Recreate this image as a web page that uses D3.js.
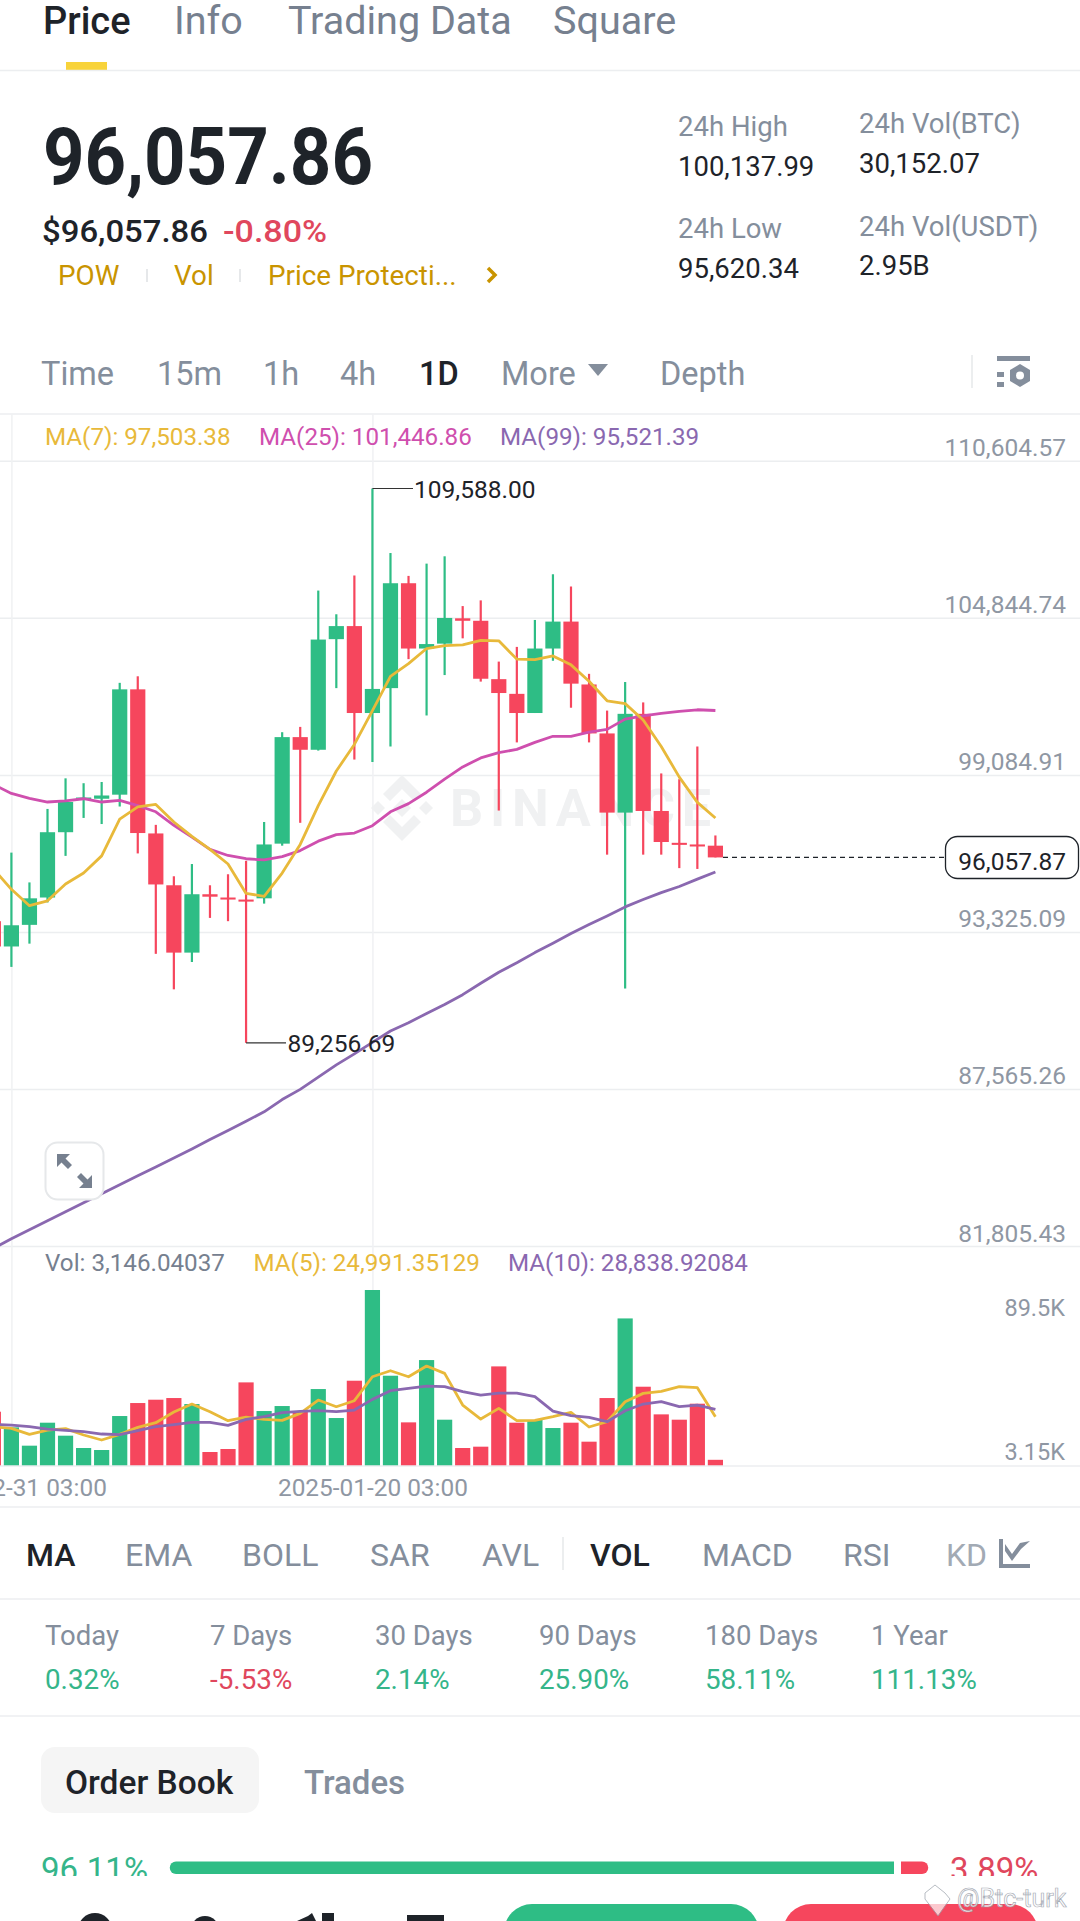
<!DOCTYPE html>
<html>
<head>
<meta charset="utf-8">
<script src="https://cdn.jsdelivr.net/npm/d3@7"></script>
<style>
  html, body { margin: 0; padding: 0; background: #fff; }
  svg { display: block; }
  text { font-family: Roboto, "Noto Sans", sans-serif; }
</style>
</head>
<body>
<div id="chart"></div>
<script>
// ======= candle data, one per day, first one is 2024-12-30
var firstDay = new Date(Date.UTC(2024, 11, 30));
var opens = [93719,92791,93584,94587,96982,98180,98210,98359,102222,96937,95036,92566,94707,94587,94512,94557,96563,100470,100006,104063,104542,101354,102267,106114,103719,103898,104827,104737,102596,102057,101354,103719,104707,102401,100605,97701,101324,97761,96593,96533,96488];
var closes = [92791,93569,94557,96982,98090,98255,98329,102222,96952,95066,92566,94707,94617,94512,94437,96533,100470,100006,104048,104542,101354,102237,106114,103719,103883,104841,104737,102611,102087,101354,103719,104707,102431,100605,97701,101324,97761,96623,96518,96458,96057.87];
var highs = [94138,96234,95141,97836,98958,98779,98824,102461,102701,97252,95366,95815,95036,95440,95934,97357,100650,100845,105845,104976,106398,109588,107222,106383,106833,107102,105276,105485,103240,103779,104767,106443,105994,102791,101443,102491,101743,99138,98928,100126,96863];
var lows = [92491,92042,92895,94407,96114,97506,97282,97925,96204,92521,91219,92222,93839,93719,89256.69,94363,96488,97327,99976,102267,99647,99557,100126,103330,101264,102746,104093,102506,97776,100276,101354,103270,101548,100276,96159,91249,96159,96159,95665,95635,96057.87];
var ma7 = [95635,94887,94288,94467,95081,95485,96114,97461,97910,98000,97357,96833,96354,95815,94737,94632,95485,96533,97955,99228,100201,101443,102701,103165,103719,103824,103854,104018,104003,103330,103315,103449,103120,102521,101803,101698,101099,100126,99003,98075,97503.38];
var ma25 = [98734,98405,98225,98090,98135,98210,98090,98150,97955,97731,97237,96803,96354,96129,96009,95964,96084,96309,96653,96893,96952,97222,97731,98030,98449,98928,99378,99707,99901,100021,100276,100500,100500,100650,100755,101129,101249,101339,101414,101473,101446.86];
var ma99 = [81713,82072,82402,82731,83060,83389,83719,84048,84378,84707,85036,85365,85710,86039,86383,86727,87177,87551,88000,88449,88854,89273,89692,89991,90336,90665,91024,91443,91848,92192,92566,92910,93269,93599,93913,94243,94512,94767,94991,95261,95521.39];
var volumes = [27612,19650,10333,22022,15415,9148,8131,25410,32017,33711,34558,31508,7115,8639,42519,27951,30492,27612,39131,24394,43366,89500,45907,22191,53869,23547,9148,9825,50651,22022,23377,19312,22022,12366,34558,75044,40317,26257,23547,31678,3146.04];
var volMa5 = [19989,19142,16093,18295,18973,15754,13213,16093,19650,22022,27443,31508,27612,23038,24902,23716,23208,26765,33541,30153,33202,45399,48448,45399,50820,47093,31000,23885,29306,23038,23208,25071,27273,19820,22530,32694,36929,37946,40317,39809,24991.35];
var volMa10 = [21175,20836,19989,18803,18126,17448,16262,15924,17956,19989,21006,22191,22191,20667,23716,25071,27104,27782,28120,27612,28459,33880,38284,39470,40656,40317,37776,36082,37099,37099,35235,27951,25579,24732,22530,28120,31508,32694,30153,31000,28838.92];

var priceTicks = [110604.57,104844.74,99084.91,93325.09,87565.26,81805.43];
var volTicks = [89500,3150];
var volTickLabels = ["89.5K","3.15K"];
var lastPrice = 96057.87;
var highPrice = 109588.00;
var lowPrice = 89256.69;

// ======= page text
var tabNames = ["Price","Info","Trading Data","Square"];
var rangeNames = ["Time","15m","1h","4h","1D","More","Depth"];
var indicatorNames = ["MA","EMA","BOLL","SAR","AVL","VOL","MACD","RSI","KD"];
var periodNames = ["Today","7 Days","30 Days","90 Days","180 Days","1 Year"];
var periodValues = ["0.32%","-5.53%","2.14%","25.90%","58.11%","111.13%"];

var GREEN = "#2ebd85", RED = "#f6465d", GOLD = "#e8b93a", PINK = "#cf4fae", PURPLE = "#8a68b0";
var GREY = "#848e9c", DARK = "#1e2329", GRID = "#eceef0", AXIS = "#8f97a3";

var days = opens.map(function(d, j) { return d3.utcDay.offset(firstDay, j); });

var svg = d3.select("#chart").append("svg")
  .attr("width", 1080)
  .attr("height", 1921)
  .style("background", "#fff");

var x = d3.scaleUtc().domain([days[1], days[40]]).range([11.4, 715.4]);
var y = d3.scaleLinear().domain([81805.43, 110604.57]).range([1246, 460.8]);
var yVol = d3.scaleLinear().domain([0, 89500]).range([1466, 1290]);

function label(str, px, py, size, fill, weight, anchor) {
  return svg.append("text")
    .text(str)
    .attr("x", px)
    .attr("y", py)
    .attr("font-size", size)
    .attr("fill", fill)
    .attr("font-weight", weight || 400)
    .attr("text-anchor", anchor || "start");
}

function hline(py, x1, x2, color) {
  svg.append("line").attr("x1", x1).attr("x2", x2).attr("y1", py).attr("y2", py)
    .attr("stroke", color || GRID).attr("stroke-width", 1.5);
}

// ======= top tabs
var tabX = [43, 174, 288, 553];
tabNames.forEach(function(t, j) {
  label(t, tabX[j], 34, j == 0 ? 38 : 39.5, j == 0 ? DARK : "#76808f", j == 0 ? 500 : 400);
});
svg.append("rect").attr("x", 66).attr("y", 62).attr("width", 41).attr("height", 8).attr("fill", "#f8d33a");
hline(70.5, 0, 1080);

// ======= price header
label("96,057.86", 43, 183.5, 80, DARK, 700).attr("textLength", 330).attr("lengthAdjust", "spacingAndGlyphs");
label("$96,057.86", 42, 242, 31, DARK, 500).attr("textLength", 166).attr("lengthAdjust", "spacingAndGlyphs");
label("-0.80%", 223, 242, 32, "#e0475d", 500).attr("textLength", 104).attr("lengthAdjust", "spacingAndGlyphs");
label("POW", 58, 285, 27.8, "#c99400");
label("Vol", 174, 285, 27.8, "#c99400");
label("Price Protecti...", 268, 285, 27.8, "#c99400");
[147, 240].forEach(function(sx) {
  svg.append("line").attr("x1", sx).attr("x2", sx).attr("y1", 269).attr("y2", 282).attr("stroke", "#e6e8ea").attr("stroke-width", 2);
});
svg.append("path").attr("d", "M488,268 L495,275 L488,282").attr("fill", "none").attr("stroke", "#c99400").attr("stroke-width", 3.5);

label("24h High", 678, 136, 27.5, GREY);
label("100,137.99", 678, 176, 27.5, DARK);
label("24h Low", 678, 238, 27.5, GREY);
label("95,620.34", 678, 278, 27.5, DARK);
label("24h Vol(BTC)", 859, 133, 27.5, GREY);
label("30,152.07", 859, 173, 27.5, DARK);
label("24h Vol(USDT)", 859, 236, 27.5, GREY);
label("2.95B", 859, 275, 27.5, DARK);

// ======= time range row
var rangeX = [41, 157, 263, 340, 419, 501, 660];
rangeNames.forEach(function(t, j) {
  label(t, rangeX[j], 385, 32.5, t == "1D" ? DARK : GREY, t == "1D" ? 500 : 400);
});
svg.append("path").attr("d", "M588,364 L608,364 L598,376 Z").attr("fill", GREY);
svg.append("line").attr("x1", 972).attr("x2", 972).attr("y1", 355).attr("y2", 388).attr("stroke", "#e6e8ea").attr("stroke-width", 1.5);
svg.append("rect").attr("x", 997).attr("y", 356).attr("width", 33).attr("height", 5).attr("fill", GREY);
svg.append("rect").attr("x", 997).attr("y", 372).attr("width", 7).attr("height", 5).attr("fill", GREY);
svg.append("rect").attr("x", 997).attr("y", 382).attr("width", 7).attr("height", 5).attr("fill", GREY);
svg.append("path").attr("d", "M1020,364 L1030,370 L1030,381 L1020,387 L1010,381 L1010,370 Z").attr("fill", GREY);
svg.append("circle").attr("cx", 1020).attr("cy", 375.5).attr("r", 4).attr("fill", "#fff");
hline(414, 0, 1080);

// ======= grid, from the price and time scales
svg.append("g")
  .call(d3.axisRight(y).tickValues(priceTicks).tickSize(1080).tickFormat(""))
  .call(function(g) { g.select(".domain").remove(); })
  .selectAll("line").attr("stroke", GRID).attr("stroke-width", 1.5);

svg.append("g")
  .attr("transform", "translate(0,414)")
  .call(d3.axisBottom(x).tickValues([days[1], days[21]]).tickSize(1052).tickFormat(""))
  .call(function(g) { g.select(".domain").remove(); })
  .selectAll("line").attr("stroke", "#f0f1f3").attr("stroke-width", 1.5);

// ======= watermark
var logo = svg.append("g").attr("transform", "translate(402,808)").attr("fill", "#f0f1f2");
logo.append("path").attr("d", "M0,-33 L19,-14 L12,-7 L0,-19 L-12,-7 L-19,-14 Z");
logo.append("path").attr("d", "M0,33 L19,14 L12,7 L0,19 L-12,7 L-19,14 Z");
logo.append("path").attr("d", "M0,-9 L9,0 L0,9 L-9,0 Z");
logo.append("path").attr("d", "M-24,-7 L-17,0 L-24,7 L-31,0 Z");
logo.append("path").attr("d", "M24,-7 L31,0 L24,7 L17,0 Z");
label("BINANCE", 450, 826, 52, "#f0f1f2", 700).attr("textLength", 261);

// ======= candles
var candle = svg.append("g").selectAll("g")
  .data(days)
  .enter()
  .append("g")
  .attr("fill", function(d, j) { return closes[j] >= opens[j] ? GREEN : RED; });

candle.append("rect")
  .attr("x", function(d) { return x(d) - 1.1; })
  .attr("width", 2.2)
  .attr("y", function(d, j) { return y(highs[j]); })
  .attr("height", function(d, j) { return y(lows[j]) - y(highs[j]); });

candle.append("rect")
  .attr("x", function(d) { return x(d) - 7.6; })
  .attr("width", 15.2)
  .attr("y", function(d, j) { return y(Math.max(opens[j], closes[j])); })
  .attr("height", function(d, j) { return Math.max(2, Math.abs(y(opens[j]) - y(closes[j]))); });

// ======= moving average lines
function drawLine(values, yScale, color) {
  var line = d3.line()
    .x(function(d, j) { return x(days[j]); })
    .y(function(d) { return yScale(d); });
  svg.append("path")
    .datum(values)
    .attr("d", line)
    .attr("fill", "none")
    .attr("stroke", color)
    .attr("stroke-width", 2.8)
    .attr("stroke-linejoin", "round");
}
drawLine(ma99, y, PURPLE);
drawLine(ma25, y, PINK);
drawLine(ma7, y, GOLD);

// ======= high / low callouts
svg.append("line").attr("x1", x(days[21])).attr("x2", 413).attr("y1", y(highPrice)).attr("y2", y(highPrice)).attr("stroke", "#333").attr("stroke-width", 1.2);
label("109,588.00", 414, y(highPrice) + 9.5, 24.5, DARK);
svg.append("line").attr("x1", x(days[14])).attr("x2", 286).attr("y1", y(lowPrice)).attr("y2", y(lowPrice)).attr("stroke", "#333").attr("stroke-width", 1.2);
label("89,256.69", 287.5, y(lowPrice) + 9.5, 24.5, DARK);

// ======= price axis labels
var priceAxis = svg.append("g")
  .attr("transform", "translate(1066,0)")
  .call(d3.axisLeft(y).tickValues(priceTicks).tickSize(0).tickPadding(0).tickFormat(d3.format(",.2f")));
priceAxis.select(".domain").remove();
priceAxis.selectAll("text")
  .attr("dy", "-5px")
  .attr("font-size", 24.5)
  .attr("font-family", "Roboto")
  .attr("fill", AXIS);

// ======= last price marker
svg.append("line").attr("x1", 723).attr("x2", 945).attr("y1", y(lastPrice)).attr("y2", y(lastPrice))
  .attr("stroke", DARK).attr("stroke-width", 1.3).attr("stroke-dasharray", "5,4");
svg.append("rect").attr("x", 945.5).attr("y", 836.5).attr("width", 133).attr("height", 42).attr("rx", 12)
  .attr("fill", "#fff").attr("stroke", DARK).attr("stroke-width", 1.3);
label("96,057.87", 1066, 870, 24.5, DARK, 400, "end");

// ======= MA legend
label("MA(7): 97,503.38", 45, 445, 24.2, GOLD);
label("MA(25): 101,446.86", 259, 445, 24.2, PINK);
label("MA(99): 95,521.39", 500, 445, 24.2, PURPLE);

// ======= expand button
svg.append("rect").attr("x", 45.5).attr("y", 1142.5).attr("width", 58).attr("height", 57).attr("rx", 12)
  .attr("fill", "#fff").attr("stroke", "#e6e8ea").attr("stroke-width", 2);
svg.append("path").attr("d", "M57,1154 L70,1154 L65.5,1158.5 L72,1165 L68,1169 L61.5,1162.5 L57,1167 Z").attr("fill", "#76808f");
svg.append("path").attr("d", "M92,1188 L79,1188 L83.5,1183.5 L77,1177 L81,1173 L87.5,1179.5 L92,1175 Z").attr("fill", "#76808f");

// ======= volume panel
label("Vol: 3,146.04037", 45, 1270.5, 24.2, "#76808f");
label("MA(5): 24,991.35129", 253.5, 1270.5, 24.2, GOLD);
label("MA(10): 28,838.92084", 508, 1270.5, 24.2, PURPLE);

svg.append("g").selectAll("rect")
  .data(days)
  .enter()
  .append("rect")
  .attr("x", function(d) { return x(d) - 7.6; })
  .attr("width", 15.2)
  .attr("y", function(d, j) { return yVol(volumes[j]); })
  .attr("height", function(d, j) { return yVol(0) - yVol(volumes[j]); })
  .attr("fill", function(d, j) { return closes[j] >= opens[j] ? GREEN : RED; });

drawLine(volMa5, yVol, GOLD);
drawLine(volMa10, yVol, PURPLE);

var volAxis = svg.append("g")
  .attr("transform", "translate(1065,0)")
  .call(d3.axisLeft(yVol).tickValues(volTicks).tickSize(0).tickPadding(0)
    .tickFormat(function(d, j) { return volTickLabels[j]; }));
volAxis.select(".domain").remove();
volAxis.selectAll("text")
  .attr("dy", function(d, j) { return j == 0 ? "25px" : "0px"; })
  .attr("font-size", 23.5)
  .attr("font-family", "Roboto")
  .attr("fill", AXIS);

hline(1466, 0, 1080);

var dateAxis = svg.append("g")
  .attr("transform", "translate(0,1466)")
  .call(d3.axisBottom(x).tickValues([days[1], days[21]]).tickSize(0).tickPadding(0)
    .tickFormat(d3.utcFormat("%Y-%m-%d 03:00")));
dateAxis.select(".domain").remove();
dateAxis.selectAll("text")
  .attr("y", 0)
  .attr("dy", "29.5px")
  .attr("font-size", 24.4)
  .attr("font-family", "Roboto")
  .attr("fill", AXIS);

hline(1507, 0, 1080);

// ======= indicator row
var indicatorX = [26, 125, 242, 370, 482, 590, 702, 843, 946];
indicatorNames.forEach(function(t, j) {
  var on = t == "MA" || t == "VOL";
  label(t, indicatorX[j], 1566, 32, on ? DARK : GREY, on ? 500 : 400)
    .attr("opacity", t == "KD" ? 0.75 : 1);
});
svg.append("line").attr("x1", 563).attr("x2", 563).attr("y1", 1537).attr("y2", 1570).attr("stroke", "#e6e8ea").attr("stroke-width", 1.5);
svg.append("path").attr("d", "M999,1539 L1003,1539 L1003,1564 L1030,1564 L1030,1568 L999,1568 Z").attr("fill", GREY);
svg.append("path").attr("d", "M1005,1544 L1012,1554 L1020,1543 L1030,1541 L1021,1549 L1012,1561 L1005,1551 Z").attr("fill", GREY);
hline(1599, 0, 1080);

// ======= period returns
var periodX = [45, 210, 375, 539, 705, 871];
periodNames.forEach(function(t, j) {
  label(t, periodX[j], 1645, 27.5, GREY);
  label(periodValues[j], periodX[j], 1689, 27.8, periodValues[j].charAt(0) == "-" ? "#e0475d" : "#35b58a");
});
hline(1716, 0, 1080);

// ======= order book
svg.append("rect").attr("x", 41).attr("y", 1747).attr("width", 218).attr("height", 66).attr("rx", 14).attr("fill", "#f5f5f5");
label("Order Book", 65, 1794, 33.5, DARK, 500);
label("Trades", 304, 1794, 33, GREY, 500);

label("96.11%", 41, 1880.5, 33, "#35b58a");
label("3.89%", 950, 1880.5, 33, "#e0475d");
svg.append("rect").attr("x", 0).attr("y", 1876).attr("width", 1080).attr("height", 45).attr("fill", "#fff");
svg.append("path").attr("d", "M176,1861.5 L894,1861.5 L894,1874 L176,1874 A6,6 0 0 1 176,1861.5 Z").attr("fill", GREEN);
svg.append("path").attr("d", "M901,1861.5 L922,1861.5 A6,6 0 0 1 922,1874 L901,1874 Z").attr("fill", RED);

// ======= bottom bar, cut by the edge of the picture
svg.append("circle").attr("cx", 95).attr("cy", 1930).attr("r", 17).attr("fill", DARK);
svg.append("circle").attr("cx", 205).attr("cy", 1930).attr("r", 14).attr("fill", DARK);
svg.append("path").attr("d", "M297,1921 L308,1916 L312,1913 L316,1921 Z").attr("fill", DARK);
svg.append("path").attr("d", "M322,1913 L334,1913 L334,1921 L322,1921 Z").attr("fill", DARK);
svg.append("rect").attr("x", 407).attr("y", 1915).attr("width", 37).attr("height", 10).attr("fill", DARK);
svg.append("rect").attr("x", 504).attr("y", 1904).attr("width", 255).attr("height", 60).attr("rx", 28).attr("fill", GREEN);
svg.append("rect").attr("x", 783).attr("y", 1904).attr("width", 255).attr("height", 60).attr("rx", 28).attr("fill", RED);

// ======= user watermark
label("@Btc-turk", 957, 1907, 25, "#fff")
  .attr("stroke", "#9aa1ab").attr("stroke-width", 0.7).attr("opacity", 0.85);
svg.append("path").attr("d", "M925,1893 L935,1885 L945,1893 L950,1899 L938,1916 L925,1899 Z")
  .attr("fill", "#fff").attr("stroke", "#9aa1ab").attr("stroke-width", 1).attr("opacity", 0.7);
</script>
</body>
</html>
